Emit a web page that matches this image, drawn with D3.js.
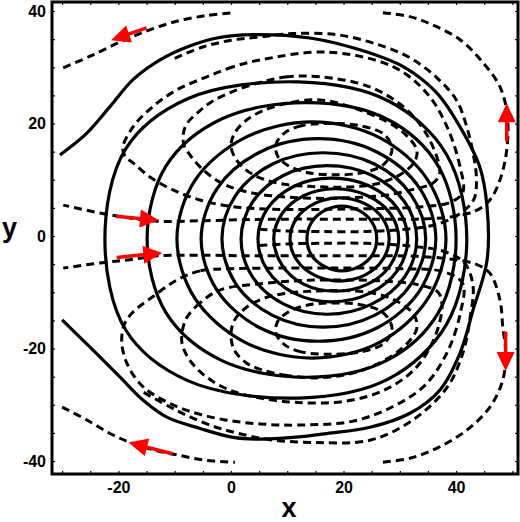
<!DOCTYPE html>
<html>
<head>
<meta charset="utf-8">
<script src="https://cdn.jsdelivr.net/npm/d3@7"></script>
<style>
body { margin: 0; background: #fff; }
text { font-family: "Liberation Sans", Arial, sans-serif; font-weight: bold; }
</style>
</head>
<body>
<svg id="chart" width="520" height="522"></svg>
<script>
// values (data units)
let xTickLabels = [-20, 0, 20, 40];
let yTickLabels = [-40, -20, 0, 20, 40];
let xTickMarks = [-30, -25, -20, -15, -10, -5, 0, 5, 10, 15, 20, 25, 30, 35, 40, 45, 50];
let yTickMarks = [-40, -35, -30, -25, -20, -15, -10, -5, 0, 5, 10, 15, 20, 25, 30, 35, 40];

// solid contour open at the left
let solidOuter = [[-30.4,14.4],[-25.6,18.3],[-21.5,23.0],[-17.4,27.8],[-12.6,31.3],[-7.8,33.6],[-2.5,35.2],[3.9,35.8],[14.0,35.2],[22.9,33.1],[30.6,30.1],[36.6,25.4],[40.7,19.4],[44.2,12.3],[45.5,5.2],[45.5,-4.3],[43.0,-13.2],[40.7,-20.8],[37.1,-27.4],[31.8,-31.5],[24.7,-34.0],[17.1,-35.1],[11.0,-35.8],[5.2,-36.1],[0.4,-35.8],[-5.5,-34.2],[-11.4,-32.2],[-15.6,-29.2],[-19.7,-25.1],[-24.5,-20.3],[-30.0,-14.9]];

// closed solid contours, outermost first
let rings = [
  [[41.9,-0.5],[38.3,14.5],[28.0,24.0],[12.0,27.4],[-7.7,24.4],[-18.7,15.5],[-22.4,-0.5],[-18.7,-16.7],[-7.7,-25.7],[12.0,-28.8],[28.0,-25.4],[38.3,-15.7]],
  [[40.0,-0.5],[36.8,12.5],[27.7,20.8],[13.5,23.7],[-1.7,20.8],[-11.5,12.5],[-14.9,-0.5],[-11.5,-13.7],[-1.7,-22.1],[13.5,-25.1],[27.7,-22.1],[36.8,-13.7]],
  [[38.2,-0.5],[35.0,9.9],[26.4,17.5],[14.5,20.3],[2.5,17.5],[-6.4,9.9],[-9.6,-0.5],[-6.4,-11.1],[2.5,-18.9],[14.5,-21.7],[26.4,-18.9],[35.0,-11.1]],
  [[36.4,-0.5],[33.6,8.4],[26.0,14.9],[15.5,17.3],[5.1,14.9],[-2.5,8.4],[-5.3,-0.5],[-2.5,-9.6],[5.1,-16.3],[15.5,-18.7],[26.0,-16.3],[33.6,-9.6]],
  [[34.6,-0.5],[32.1,7.2],[25.5,12.8],[16.3,14.8],[7.4,12.8],[0.8,7.2],[-1.6,-0.5],[0.8,-8.4],[7.4,-14.1],[16.3,-16.2],[25.5,-14.1],[32.1,-8.4]],
  [[33.0,-0.5],[30.9,6.0],[25.0,10.8],[17.0,12.5],[9.4,10.8],[3.8,6.0],[1.8,-0.5],[3.8,-7.2],[9.4,-12.1],[17.0,-13.9],[25.0,-12.1],[30.9,-7.2]],
  [[31.4,-0.5],[29.6,4.9],[24.6,8.9],[17.8,10.3],[11.3,8.9],[6.5,4.9],[4.8,-0.5],[6.5,-6.1],[11.3,-10.2],[17.8,-11.7],[24.6,-10.2],[29.6,-6.1]],
  [[29.8,-0.5],[28.3,4.0],[24.2,7.2],[18.5,8.4],[13.0,7.2],[9.1,4.0],[7.6,-0.5],[9.1,-5.2],[13.0,-8.6],[18.5,-9.8],[24.2,-8.6],[28.3,-5.2]],
  [[28.1,-0.5],[26.9,3.2],[23.7,5.8],[19.2,6.8],[14.9,5.8],[11.7,3.2],[10.5,-0.5],[11.7,-4.3],[14.9,-7.0],[19.2,-8.0],[23.7,-7.0],[26.9,-4.3]],
  [[25.9,-0.5],[25.1,2.4],[22.8,4.5],[19.7,5.3],[16.6,4.5],[14.3,2.4],[13.5,-0.5],[14.3,-3.4],[16.6,-5.4],[19.7,-6.2],[22.8,-5.4],[25.1,-3.4]]
];

// dashed lines that are open
let aTopLeft = [[-29.8,29.9],[-24.5,32.2],[-19.5,34.6],[-15.6,36.2],[-10.3,38.0],[-4.3,39.2],[0.7,39.7]];
let aUpper = [[27.0,39.7],[31.8,39.0],[35.9,37.5],[40.7,34.9],[44.8,30.8],[47.8,26.5],[49.1,21.5],[49.0,15.3],[47.8,10.0],[46.0,6.4],[43.5,4.5],[39,3.4],[33,3.0],[26,3.0],[18,3.0],[10,3.0],[2,2.9],[-6,2.7],[-12.6,2.6],[-18,3.2],[-23.3,4.1],[-29.8,5.5]];
let aBottomLeft = [[-30.0,-30.4],[-25.6,-32.7],[-21.5,-35.1],[-17.9,-36.7],[-13.0,-38.2],[-9.1,-39.0],[-4.3,-39.9],[0.7,-40.2]];
let aLower = [[27.0,-40.2],[31.8,-39.5],[36.6,-37.7],[41.9,-34.5],[46.0,-30.4],[48.3,-25.6],[48.8,-20.5],[48.3,-16.2],[47.8,-11.4],[46.0,-6.6],[43.5,-5.0],[39,-4.1],[33,-3.6],[26,-3.5],[18,-3.5],[10,-3.5],[2,-3.5],[-6,-3.4],[-12.5,-3.5],[-18,-4.2],[-23.3,-4.8],[-29.8,-5.7]];
let bUpper = [[-10.0,31.6],[-5.0,33.6],[0.0,34.8],[5.2,35.4],[11.0,36.0],[18.8,35.8],[25.9,34.1],[31.8,31.7],[36.6,28.1],[40.1,24.1],[41.9,19.4],[43.0,14.8],[43.6,10.5],[43.2,6.6],[41.0,4.2],[37.0,2.2],[31.0,1.2],[24.0,0.8],[16.0,0.8],[10.0,0.9],[5.0,1.2]];
let bLower = [[-15.5,-27.8],[-11.0,-30.3],[-7.8,-31.9],[-3.2,-33.8],[1.0,-35.0],[6.9,-36.2],[15.0,-36.7],[24.7,-36.3],[32.3,-32.7],[38.4,-26.9],[41.2,-20.8],[42.5,-14.4],[43.0,-8.8],[41.5,-4.8],[38.0,-2.8],[32.0,-1.8],[24.0,-1.3],[16.0,-1.3],[10.0,-1.4],[5.0,-1.7]];

// dashed closed loops
let l1Upper = [[5.2,31.3],[0.4,30.1],[-4.3,28.3],[-9.6,26.0],[-13.9,23.0],[-17.4,19.4],[-19.2,15.8],[-18.8,14.1],[-17.4,13.0],[-14.4,10.5],[-10.3,8.2],[-5.5,6.4],[-0.2,5.3],[6,4.8],[13,4.7],[20,4.8],[27,4.9],[34,5.2],[39,6.0],[41.2,7.8],[40.7,12.3],[38.4,19.4],[34.8,25.4],[28.8,30.1],[17.1,32.7]];
let l2Upper = [[15.8,28.3],[10,28.3],[5.2,27.3],[0.6,25.8],[-3.2,24.0],[-5.5,22.3],[-7.8,20.0],[-8.5,18.0],[-8.3,16.0],[-7.2,14.3],[-5.5,12.3],[-3.4,10.5],[-0.8,9.0],[3.5,7.7],[9,7.0],[15,6.7],[21,6.8],[27,7.2],[32,8.2],[36.0,9.5],[37.1,11.2],[35.3,17.1],[31.3,22.4],[24.7,26.5]];
let l3Upper = [[15.8,24.2],[10,23.6],[5.5,22.2],[2.5,20.4],[0.6,18.2],[0.0,16.0],[0.8,13.8],[2.6,11.8],[5.5,10.2],[9.5,9.2],[14.5,8.8],[20,8.7],[25.5,9.2],[29.5,10.6],[32.5,13.0],[33.0,15.3],[30.0,18.9],[22.9,22.4]];
let l4Upper = [[17,20.0],[12.5,19.6],[9.5,18.3],[8.0,16.3],[8.3,14.2],[10.2,12.5],[13.5,11.3],[18,10.9],[23,11.2],[27,12.6],[28.6,15.3],[27.3,18.0],[23,19.6]];
let l1Lower = [[0,-5.8],[-5.5,-6.2],[-9.6,-7.8],[-13.9,-10.8],[-17.4,-13.5],[-19.0,-15.8],[-19.4,-19.0],[-18.5,-22.6],[-16.2,-26.2],[-13.1,-28.6],[-7.8,-31.0],[-1.5,-32.6],[5.2,-33.4],[12.3,-33.6],[21.7,-32.9],[28.8,-30.3],[34.5,-26.5],[38.5,-20.5],[40.8,-13.5],[41.2,-8.5],[38,-6.4],[30,-5.8],[20,-5.7],[10,-5.7]];
let l2Lower = [[-2.0,-9.6],[-5.5,-11.9],[-7.8,-14.4],[-8.5,-16.2],[-8.7,-19.0],[-7.3,-22.1],[-4.3,-25.1],[-0.2,-27.4],[5.2,-28.8],[12,-29.6],[20,-29.4],[27,-27.5],[32.5,-23.8],[36,-18.5],[37.5,-12.5],[36.8,-10.0],[33,-8.6],[27,-8.0],[20,-7.8],[13,-7.9],[6,-8.4]];
let l3Lower = [[15.8,-25.2],[10,-24.8],[5.5,-23.8],[2.8,-22.6],[0.6,-20.3],[0.0,-17.5],[0.6,-15.0],[2.6,-12.8],[5.5,-11.2],[9.5,-10.2],[14.5,-9.8],[20,-9.7],[25.5,-10.2],[29.5,-11.6],[32.5,-14.0],[33.0,-16.5],[30.0,-20.3],[22.9,-24.0]];
let l4Lower = [[17,-21.0],[12.5,-20.6],[9.5,-19.3],[8.0,-17.3],[8.3,-15.2],[10.2,-13.5],[13.5,-12.3],[18,-11.9],[23,-12.2],[27,-13.6],[28.6,-16.3],[27.3,-19.0],[23,-20.6]];

// red arrows: tail x, tail y, tip x, tip y
let arrows = [
  [-15.0, 37.0, -21.3, 34.8],
  [-20.4, 3.5, -12.8, 2.8],
  [-20.3, -3.8, -12.2, -3.0],
  [49.0, 16.8, 49.0, 23.6],
  [48.8, -17.0, 48.8, -24.0],
  [-10.4, -38.7, -18.2, -36.7]
];

let openDashed = [aTopLeft, aUpper, aBottomLeft, aLower, bUpper, bLower];
let closedDashed = [l1Upper, l2Upper, l3Upper, l4Upper, l1Lower, l2Lower, l3Lower, l4Lower];

let plotLeft = 52, plotRight = 518, plotTop = 2, plotBottom = 474;

let x = d3.scaleLinear().domain([-31.8, 51.0]).range([plotLeft, plotRight]);
let y = d3.scaleLinear().domain([-42.3, 41.6]).range([plotBottom, plotTop]);

let svg = d3.select("#chart");

svg.append("defs").append("clipPath").attr("id", "plotclip")
    .append("rect")
    .attr("x", plotLeft).attr("y", plotTop)
    .attr("width", plotRight - plotLeft).attr("height", plotBottom - plotTop);

let plot = svg.append("g").attr("clip-path", "url(#plotclip)");

let openLine = d3.line()
    .x(d => x(d[0])).y(d => y(d[1]))
    .curve(d3.curveCatmullRom.alpha(0.5));
let closedLine = d3.line()
    .x(d => x(d[0])).y(d => y(d[1]))
    .curve(d3.curveCatmullRomClosed.alpha(0.5));

// dashed lines
plot.selectAll(".dopen")
    .data(openDashed)
    .enter().append("path")
    .attr("class", "dopen")
    .attr("d", openLine)
    .attr("fill", "none")
    .attr("stroke", "#000")
    .attr("stroke-width", 3)
    .attr("stroke-dasharray", "8,5");

plot.selectAll(".dloop")
    .data(closedDashed)
    .enter().append("path")
    .attr("class", "dloop")
    .attr("d", closedLine)
    .attr("fill", "none")
    .attr("stroke", "#000")
    .attr("stroke-width", 3)
    .attr("stroke-dasharray", "8,5");

// solid contours
plot.selectAll(".ring")
    .data(rings)
    .enter().append("path")
    .attr("class", "ring")
    .attr("d", closedLine)
    .attr("fill", "none")
    .attr("stroke", "#000")
    .attr("stroke-width", 3.2);

plot.append("path")
    .attr("d", openLine(solidOuter))
    .attr("fill", "none")
    .attr("stroke", "#000")
    .attr("stroke-width", 3.2);

// arrows
let headLen = 19, headHalf = 9;
arrows.forEach(a => {
    let x0 = x(a[0]), y0 = y(a[1]), x1 = x(a[2]), y1 = y(a[3]);
    let dx = x1 - x0, dy = y1 - y0;
    let len = Math.sqrt(dx * dx + dy * dy);
    let ux = dx / len, uy = dy / len;
    let bx = x1 - ux * headLen, by = y1 - uy * headLen;
    plot.append("line")
        .attr("x1", x0).attr("y1", y0)
        .attr("x2", bx + ux * 2).attr("y2", by + uy * 2)
        .attr("stroke", "#f00")
        .attr("stroke-width", 3.5);
    plot.append("polygon")
        .attr("points", [
            [x1, y1],
            [bx - uy * headHalf, by + ux * headHalf],
            [bx + uy * headHalf, by - ux * headHalf]
        ].map(p => p.join(",")).join(" "))
        .attr("fill", "#f00");
});

// axes, ticks pointing inwards
let fmtX = d => xTickLabels.includes(d) ? String(d) : "";
let fmtY = d => yTickLabels.includes(d) ? String(d) : "";

let gBottom = svg.append("g")
    .attr("transform", "translate(0," + plotBottom + ")")
    .call(d3.axisBottom(x).tickValues(xTickMarks).tickSize(-3).tickPadding(8).tickFormat(fmtX));
let gTop = svg.append("g")
    .attr("transform", "translate(0," + plotTop + ")")
    .call(d3.axisTop(x).tickValues(xTickMarks).tickSize(-3).tickFormat(""));
let gLeft = svg.append("g")
    .attr("transform", "translate(" + plotLeft + ",0)")
    .call(d3.axisLeft(y).tickValues(yTickMarks).tickSize(-3).tickPadding(6).tickFormat(fmtY));
let gRight = svg.append("g")
    .attr("transform", "translate(" + plotRight + ",0)")
    .call(d3.axisRight(y).tickValues(yTickMarks).tickSize(-3).tickFormat(""));

[gBottom, gTop, gLeft, gRight].forEach(g => {
    g.select(".domain").remove();
    g.selectAll(".tick line").attr("stroke", "#000").attr("stroke-width", 1.2);
    g.selectAll("text")
        .attr("fill", "#000")
        .style("font-size", "16px")
        .style("font-family", "'Liberation Sans', Arial, sans-serif")
        .style("font-weight", "bold");
});

svg.append("rect")
    .attr("x", plotLeft).attr("y", plotTop)
    .attr("width", plotRight - plotLeft).attr("height", plotBottom - plotTop)
    .attr("fill", "none")
    .attr("stroke", "#000")
    .attr("stroke-width", 3);

// axis titles
svg.append("text")
    .attr("x", 2).attr("y", 237)
    .style("font-size", "27px")
    .text("y");
svg.append("text")
    .attr("x", 289).attr("y", 517)
    .attr("text-anchor", "middle")
    .style("font-size", "27px")
    .text("x");
</script>
</body>
</html>
